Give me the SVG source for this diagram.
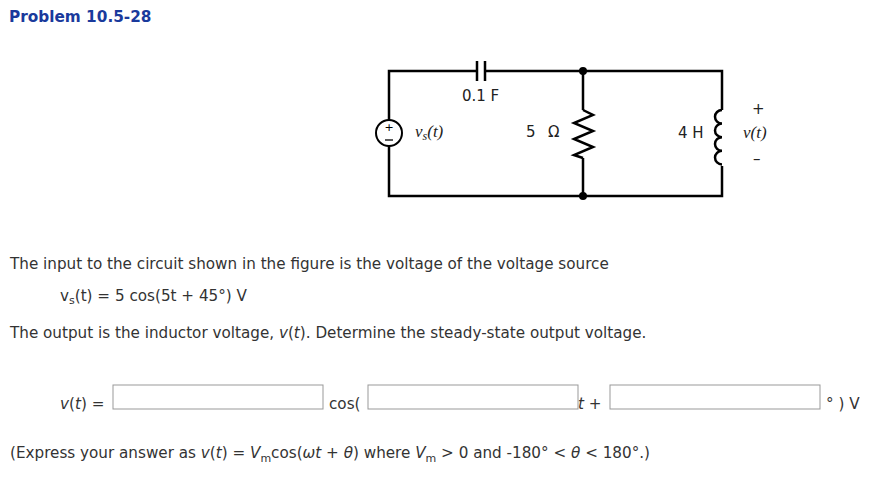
<svg xmlns="http://www.w3.org/2000/svg" width="870" height="482" viewBox="0 0 870 482">
<style>
.w{stroke:#000;stroke-width:2.5;fill:none}
.t{font-family:"DejaVu Sans",Verdana,sans-serif;font-size:15.2px;fill:#333}
.c{font-family:"DejaVu Sans",sans-serif;font-size:15px;fill:#222}
.m{font-family:"Liberation Serif",serif;font-style:italic;font-size:17px;fill:#222}
.box{fill:#fff;stroke:#999;stroke-width:1}
</style>
<rect width="870" height="482" fill="#fff"/>
<text x="9" y="22" font-family="DejaVu Sans,Verdana,sans-serif" font-weight="bold" font-size="15.3" fill="#1a3a9c">Problem 10.5-28</text>
<g id="connectors">
<path class="w" d="M389 121 V71 H477 M485 71 H722 V110 M722 166 V196 H389 V145 M583 71 V110 M583 158 V196"/>
</g>
<g id="capacitor"><path class="w" d="M477 61 V81 M485 61 V81"/><text class="c" x="462" y="101">0.1 F</text></g>
<g id="source"><circle cx="389" cy="133" r="13" fill="#fff" stroke="#000" stroke-width="2"/>
<text x="389" y="131" text-anchor="middle" font-family="DejaVu Sans" font-size="11">+</text>
<path d="M385 140 H393" stroke="#000" stroke-width="1.3"/>
<text class="m" x="415" y="137">v<tspan font-size="12" dy="3">s</tspan><tspan dy="-3">(t)</tspan></text></g>
<g id="resistor"><path class="w" stroke-width="2" d="M583 110 L593 115 L574 123 L593 131 L574 139 L593 147 L574 155 L583 158"/><text class="c" x="526" y="137">5</text><text class="c" x="548" y="137" font-family="Liberation Serif">Ω</text></g>
<g id="inductor"><path class="w" stroke-width="2" d="M722 110 a7 6.8 0 0 0 0 13.6 a7 6.8 0 0 0 0 13.6 a7 6.8 0 0 0 0 13.6 a7 6.8 0 0 0 0 13.6"/><text class="c" x="678" y="138">4 H</text>
<text class="c" x="752" y="114">+</text><text class="m" x="743" y="138">v(t)</text><text class="c" x="753" y="164">–</text></g>
<circle cx="583" cy="71" r="4" fill="#000"/><circle cx="583" cy="196" r="4" fill="#000"/>
<text class="t" x="10" y="269">The input to the circuit shown in the figure is the voltage of the voltage source</text>
<text class="t" x="60" y="301">v<tspan font-size="11" dy="3">s</tspan><tspan dy="-3">(t) = 5 cos(5t + 45°) V</tspan></text>
<text class="t" x="10" y="338">The output is the inductor voltage, <tspan font-style="italic">v</tspan>(<tspan font-style="italic">t</tspan>). Determine the steady-state output voltage.</text>
<text class="t" x="60" y="409"><tspan font-style="italic">v</tspan>(<tspan font-style="italic">t</tspan>) =</text>
<rect class="box" x="113" y="385" width="210" height="24"/>
<text class="t" x="329" y="409">cos(</text>
<rect class="box" x="368" y="385" width="210" height="24"/>
<text class="t" x="578" y="409"><tspan font-style="italic">t</tspan> +</text>
<rect class="box" x="610" y="385" width="210" height="24"/>
<text class="t" x="826" y="409">° ) V</text>
<text class="t" x="10" y="458">(Express your answer as <tspan font-style="italic">v</tspan>(<tspan font-style="italic">t</tspan>) = <tspan font-style="italic">V</tspan><tspan font-size="11" dy="4">m</tspan><tspan dy="-4">cos(</tspan><tspan font-style="italic">ωt</tspan> + <tspan font-style="italic">θ</tspan>) where <tspan font-style="italic">V</tspan><tspan font-size="11" dy="4">m</tspan><tspan dy="-4"> &gt; 0 and -180° &lt; </tspan><tspan font-style="italic">θ</tspan> &lt; 180°.)</text>
</svg>
